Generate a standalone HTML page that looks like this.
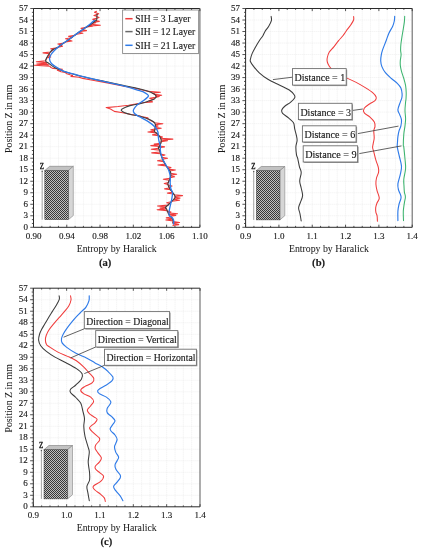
<!DOCTYPE html>
<html><head><meta charset="utf-8"><title>Entropy by Haralick</title>
<style>html,body{margin:0;padding:0;background:#fff;width:421px;height:550px;overflow:hidden}svg{display:block}</style>
</head><body>
<svg width="421" height="550" viewBox="0 0 421 550" font-family="&apos;Liberation Serif&apos;, &apos;DejaVu Serif&apos;, serif"><style>text{stroke:#1a1a1a;stroke-width:0.14px}text.al{stroke-width:0.04px}</style>
<defs><pattern id="chk" x="0" y="0" width="2" height="2" patternUnits="userSpaceOnUse"><rect width="2" height="2" fill="#383838"/><rect x="1" y="0" width="1" height="1" fill="#bfbfbf"/><rect x="0" y="1" width="1" height="1" fill="#bfbfbf"/></pattern></defs>
<rect width="421" height="550" fill="#fff"/>
<g stroke="#e4e4e4" stroke-width="0.5" stroke-dasharray="1.2 0.8"><line x1="41.82" y1="8.5" x2="41.82" y2="227.3"/><line x1="50.14" y1="8.5" x2="50.14" y2="227.3"/><line x1="58.46" y1="8.5" x2="58.46" y2="227.3"/><line x1="66.78" y1="8.5" x2="66.78" y2="227.3"/><line x1="75.1" y1="8.5" x2="75.1" y2="227.3"/><line x1="83.42" y1="8.5" x2="83.42" y2="227.3"/><line x1="91.74" y1="8.5" x2="91.74" y2="227.3"/><line x1="100.06" y1="8.5" x2="100.06" y2="227.3"/><line x1="108.38" y1="8.5" x2="108.38" y2="227.3"/><line x1="116.7" y1="8.5" x2="116.7" y2="227.3"/><line x1="125.02" y1="8.5" x2="125.02" y2="227.3"/><line x1="133.34" y1="8.5" x2="133.34" y2="227.3"/><line x1="141.66" y1="8.5" x2="141.66" y2="227.3"/><line x1="149.98" y1="8.5" x2="149.98" y2="227.3"/><line x1="158.3" y1="8.5" x2="158.3" y2="227.3"/><line x1="166.62" y1="8.5" x2="166.62" y2="227.3"/><line x1="174.94" y1="8.5" x2="174.94" y2="227.3"/><line x1="183.26" y1="8.5" x2="183.26" y2="227.3"/><line x1="191.58" y1="8.5" x2="191.58" y2="227.3"/><line x1="33.5" y1="215.78" x2="199.9" y2="215.78"/><line x1="33.5" y1="204.27" x2="199.9" y2="204.27"/><line x1="33.5" y1="192.75" x2="199.9" y2="192.75"/><line x1="33.5" y1="181.24" x2="199.9" y2="181.24"/><line x1="33.5" y1="169.72" x2="199.9" y2="169.72"/><line x1="33.5" y1="158.21" x2="199.9" y2="158.21"/><line x1="33.5" y1="146.69" x2="199.9" y2="146.69"/><line x1="33.5" y1="135.17" x2="199.9" y2="135.17"/><line x1="33.5" y1="123.66" x2="199.9" y2="123.66"/><line x1="33.5" y1="112.14" x2="199.9" y2="112.14"/><line x1="33.5" y1="100.63" x2="199.9" y2="100.63"/><line x1="33.5" y1="89.11" x2="199.9" y2="89.11"/><line x1="33.5" y1="77.59" x2="199.9" y2="77.59"/><line x1="33.5" y1="66.08" x2="199.9" y2="66.08"/><line x1="33.5" y1="54.56" x2="199.9" y2="54.56"/><line x1="33.5" y1="43.05" x2="199.9" y2="43.05"/><line x1="33.5" y1="31.53" x2="199.9" y2="31.53"/><line x1="33.5" y1="20.02" x2="199.9" y2="20.02"/></g>
<path d="M44.8 170.5 L49.7 166.3 L73.3 166.3 L68.4 170.5 Z" fill="#c2c2c2" stroke="#7a7a7a" stroke-width="0.6"/><path d="M68.4 170.5 L73.3 166.3 L73.3 215.5 L68.4 219.7 Z" fill="#d6d6d6" stroke="#858585" stroke-width="0.6"/><rect x="44.8" y="170.5" width="23.6" height="49.2" fill="url(#chk)" stroke="#444" stroke-width="0.5"/><line x1="42.2" y1="171.1" x2="42.2" y2="219.7" stroke="#909090" stroke-width="0.8"/><circle cx="42.2" cy="171.3" r="0.7" fill="#555"/><text x="0" y="0" text-anchor="middle" font-size="9" fill="#111" style="stroke:#111;stroke-width:0.3px" transform="translate(42 169.2) scale(0.78 1)">Z</text>
<path d="M96.5 11.3 L94.5 12.2 L96.54 13.1 L96.53 12.9 L98.7 13.8 L96.69 14.7 L96.67 14.5 L93.9 15.4 L96.75 16.3 L96.71 16.6 L99 17.5 L96.44 18.4 L96.44 18.4 L92.7 19.3 L95.98 20.2 L95.66 20.5 L99.3 21.4 L93.72 22.3 L94.15 21.9 L95.7 22.8 L91.7 23.7 L90.8 24.3 L100.4 25.2 L88.12 26.1 L89.45 25.2 L92.7 26.1 L86.79 27 L86.21 27.4 L81 28.3 L83.57 29.2 L82.86 29.7 L86.5 30.6 L80.29 31.5 L79 32.4 L82.8 33.3 L76.46 34.2 L74.85 35.4 L68.5 36.3 L72.42 37.2 L71.62 37.8 L65.5 38.7 L69.12 39.6 L68.4 40.1 L72 41 L65.77 41.9 L64.02 43.1 L57.8 44 L61.48 44.9 L60.92 45.3 L62.5 46.2 L58.43 47.1 L57.6 47.7 L57.19 47.9 L50.7 48.8 L53.53 49.7 L51.9 50.5 L50.72 52 L43 52.9 L49.31 53.8 L49.08 54.1 L50 55 L47.97 55.9 L47.85 56.1 L50.7 57 L46.82 57.9 L45.5 60.8 L45.5 60.8 L36.3 61.7 L46.5 62.6 L46.78 63.1 L36.8 64 L48.4 64.9 L47.9 64.4 L34.4 65.3 L49.7 66.2 L51 67.5 L53.1 68.4 L62.5 69.3 L57.3 70.2 L58 70.5 L61 71.7 L66.3 72.6 L66.04 73.5 L70 74.8 L72.49 75.5 L71 76.4 L78.89 77.3 L82.8 78.4 L94 80.5 L110 83.4 L124 86.2 L135 88.2 L147.5 91.3 L147.75 91.4 L160.4 92.3 L152.21 93.2 L154.2 94 L154.48 94.35 L161.7 95.25 L155.92 96.15 L156.2 96.5 L155.48 95.6 L159.2 96.5 L155.48 97.4 L155.56 97.3 L149.6 98.2 L153.93 99.1 L148.84 101 L152.5 101.9 L142.37 102.8 L140 103.4 L128.5 105.2 L118 106.5 L106.2 107.6 L110.5 109 L114.3 111.4 L122.8 112.8 L131.4 114.5 L140 116 L142.41 116.9 L147.9 117.8 L147.23 118.7 L148.3 119.1 L149.24 119.6 L150.5 120.5 L152.62 121.4 L153.75 122 L154.28 122.8 L162.9 123.7 L155.39 124.6 L155.34 125.1 L158 126 L155.17 126.9 L155.13 127.35 L161.25 128.25 L154.94 129.15 L154.96 129 L150.8 129.9 L154.71 130.8 L154.67 131.1 L147.9 132 L156.25 132.9 L156.7 133.25 L157.36 134 L152.5 134.9 L158.94 135.8 L160 137 L159.21 136.1 L162.5 137 L160.34 137.9 L160.45 138.2 L172.9 139.1 L161.14 140 L161.08 139.85 L167.5 140.75 L161.04 141.65 L160.81 143.2 L154.2 144.1 L160.12 145 L160.23 144.7 L150.8 145.6 L159.22 146.5 L159.54 146 L164.6 146.9 L158.37 147.8 L158.3 147.9 L158.55 148.3 L151.25 149.2 L159.62 150.1 L160.08 152 L151.7 152.9 L160.59 153.8 L160.7 154.1 L165 155 L161.37 155.9 L161.93 157.4 L167.5 158.3 L162.6 159.2 L162.86 159.9 L157.5 160.8 L163.86 161.7 L165.23 164.1 L157.9 165 L166.25 165.9 L166.64 166.6 L171 167.5 L167.96 168.4 L168.48 169.1 L175.4 170 L169.81 170.9 L170.4 171.7 L170.59 173.3 L176.7 174.2 L170.78 175.1 L170.58 175.9 L174.6 176.8 L170.15 177.7 L170 178.3 L169.96 178.4 L163.3 179.3 L169.23 180.2 L168.5 182 L168.34 182.6 L164.2 183.5 L167.94 184.4 L168.22 185.1 L172 186 L168.95 186.9 L169.4 188 L164.6 188.9 L170.58 189.8 L172.1 191.8 L172.38 192.2 L167.5 193.1 L173.62 194 L174.1 194.7 L182.5 195.6 L174.92 196.5 L174.81 197.2 L180 198.1 L174.09 199 L173.79 199.3 L179.6 200.2 L171.96 201.1 L171.25 201.8 L171.25 201.8 L166.7 202.7 L169.45 203.6 L168.3 204.75 L167.96 205.1 L157.5 206 L166.19 206.9 L165.89 207.2 L160 208.1 L166.53 209 L166.4 208.85 L157.1 209.75 L167.16 210.65 L167.31 211.1 L171 212 L168.12 212.9 L168.09 212.85 L177.5 213.75 L169.02 214.65 L168.94 214.5 L175.8 215.4 L170.34 216.3 L170.96 217 L166.25 217.9 L172.3 218.8 L172.43 219.1 L165.8 220 L173.16 220.9 L173.3 221.25 L172.9 222.5 L173.19 221.6 L179.6 222.5 L172.9 223.4 L172.9 223.7 L178.75 224.6 L172.9 225.5" fill="none" stroke="#f03c3c" stroke-width="1.1" stroke-linejoin="round" stroke-linecap="round"/>
<path d="M97.1 14 C97.07 14.48 96.98 15.92 96.9 16.9 C96.82 17.88 97 19.1 96.6 19.9 C96.2 20.7 95.6 20.85 94.5 21.7 C93.4 22.55 91.75 23.83 90 25 C88.25 26.17 86.17 27.28 84 28.7 C81.83 30.12 79.33 31.82 77 33.5 C74.67 35.18 72.33 37.13 70 38.8 C67.67 40.47 65.07 42.07 63 43.5 C60.93 44.93 59.45 46.28 57.6 47.4 C55.75 48.52 53.33 49.1 51.9 50.2 C50.47 51.3 49.87 52.73 49 54 C48.13 55.27 47.25 56.6 46.7 57.8 C46.15 59 45.32 60.25 45.7 61.2 C46.08 62.15 47.5 62.47 49 63.5 C50.5 64.53 52.37 66.15 54.7 67.4 C57.03 68.65 60.45 70.03 63 71 C65.55 71.97 67.17 72.37 70 73.2 C72.83 74.03 76 75 80 76 C84 77 89 78.1 94 79.2 C99 80.3 105 81.53 110 82.6 C115 83.67 119.83 84.74 124 85.6 C128.17 86.46 131.08 86.83 135 87.75 C138.92 88.67 144.3 90.06 147.5 91.1 C150.7 92.14 152.75 93.1 154.2 94 C155.65 94.9 156.2 95.67 156.2 96.5 C156.2 97.33 155.65 98.17 154.2 99 C152.75 99.83 149.87 100.73 147.5 101.5 C145.13 102.27 142.92 102.92 140 103.6 C137.08 104.28 132.5 104.93 130 105.6 C127.5 106.27 126.47 106.87 125 107.6 C123.53 108.33 121.23 109.13 121.2 110 C121.17 110.87 123.1 112.02 124.8 112.8 C126.5 113.58 128.87 114.13 131.4 114.7 C133.93 115.27 137.18 115.47 140 116.2 C142.82 116.93 146.01 118.13 148.3 119.1 C150.59 120.07 152.57 121.1 153.75 122 C154.93 122.9 155.19 123.38 155.4 124.5 C155.61 125.62 155.13 127.52 155 128.7 C154.87 129.88 154.32 130.84 154.6 131.6 C154.88 132.36 155.8 132.35 156.7 133.25 C157.6 134.15 159.24 135.82 160 137 C160.76 138.18 161.12 139.26 161.25 140.3 C161.38 141.34 161.01 142.42 160.8 143.25 C160.59 144.08 160.42 144.53 160 145.3 C159.58 146.08 158.37 147.12 158.3 147.9 C158.23 148.68 159.25 149.1 159.6 150 C159.95 150.9 159.85 151.63 160.4 153.3 C160.95 154.97 161.85 157.77 162.9 160 C163.95 162.23 165.45 164.75 166.7 166.7 C167.95 168.65 169.72 170.32 170.4 171.7 C171.08 173.08 170.87 173.9 170.8 175 C170.73 176.1 170.38 177.13 170 178.3 C169.62 179.47 168.85 181 168.5 182 C168.15 183 167.72 183.22 167.9 184.3 C168.08 185.38 168.9 187.25 169.6 188.5 C170.3 189.75 171.2 190.55 172.1 191.8 C173 193.05 174.58 194.88 175 196 C175.42 197.12 175.22 197.53 174.6 198.5 C173.97 199.47 172.3 200.76 171.25 201.8 C170.2 202.84 169.28 203.77 168.3 204.75 C167.33 205.73 165.67 206.96 165.4 207.7 C165.13 208.44 166.35 208.53 166.7 209.2 C167.05 209.87 167.08 210.73 167.5 211.7 C167.92 212.67 168.43 213.9 169.2 215 C169.97 216.1 171.42 217.26 172.1 218.3 C172.78 219.34 173.17 220.55 173.3 221.25 C173.43 221.95 172.97 222.29 172.9 222.5" fill="none" stroke="#404040" stroke-width="1.1" stroke-linejoin="round" stroke-linecap="round"/>
<path d="M94.5 20.2 C94.1 20.55 93.08 21.47 92.1 22.3 C91.12 23.13 90.22 23.97 88.6 25.2 C86.98 26.43 84.55 28.15 82.4 29.7 C80.25 31.25 77.77 32.98 75.7 34.5 C73.63 36.02 72.38 37.13 70 38.8 C67.62 40.47 63.78 42.75 61.4 44.5 C59.02 46.25 57.37 47.72 55.7 49.3 C54.03 50.88 52.43 52.42 51.4 54 C50.37 55.58 49.5 57.22 49.5 58.8 C49.5 60.38 50.2 62.07 51.4 63.5 C52.6 64.93 54.72 66.13 56.7 67.4 C58.68 68.67 61.08 70.13 63.3 71.1 C65.52 72.07 67.22 72.42 70 73.2 C72.78 73.98 76 74.8 80 75.8 C84 76.8 89 78.03 94 79.2 C99 80.37 104.95 81.65 110 82.8 C115.05 83.95 119.55 84.83 124.3 86.1 C129.05 87.37 135.18 89.37 138.5 90.4 C141.82 91.43 142.57 91.49 144.2 92.3 C145.83 93.11 147.75 94.42 148.3 95.25 C148.85 96.08 148.33 96.39 147.5 97.3 C146.67 98.21 144.83 99.58 143.3 100.7 C141.77 101.82 139.68 102.9 138.3 104 C136.92 105.1 135.83 106.22 135 107.3 C134.17 108.38 133.38 109.47 133.3 110.5 C133.22 111.53 133.72 112.58 134.5 113.5 C135.28 114.42 137.08 115.42 138 116 C138.92 116.58 138.28 116.07 140 117 C141.72 117.93 145.8 119.93 148.3 121.6 C150.8 123.27 153.4 125.27 155 127 C156.6 128.73 157.35 130.33 157.9 132 C158.45 133.67 158.08 135.33 158.3 137 C158.52 138.67 158.82 140.42 159.2 142 C159.58 143.58 160.42 145.17 160.6 146.5 C160.78 147.83 160.12 148.3 160.3 150 C160.48 151.7 160.92 154.48 161.7 156.7 C162.48 158.92 163.9 161.22 165 163.3 C166.1 165.38 167.47 167.25 168.3 169.2 C169.13 171.15 169.67 173.2 170 175 C170.33 176.8 170.27 178.67 170.3 180 C170.33 181.33 170.12 181.58 170.2 183 C170.28 184.42 170.42 186.88 170.8 188.5 C171.18 190.12 172.35 190.9 172.5 192.7 C172.65 194.5 172.05 197.22 171.7 199.3 C171.35 201.38 170.82 203.25 170.4 205.2 C169.98 207.15 169.4 209.28 169.2 211 C169 212.72 168.65 214.33 169.2 215.5 C169.75 216.67 171.74 217.12 172.5 218 C173.26 218.88 173.58 219.8 173.75 220.8 C173.92 221.8 173.54 223.47 173.5 224" fill="none" stroke="#2f7be8" stroke-width="1.3" stroke-linejoin="round" stroke-linecap="round"/>
<rect x="122.6" y="10" width="76" height="43.5" fill="#fff" stroke="#8a8a8a" stroke-width="0.9"/><line x1="125.3" y1="18.7" x2="132.6" y2="18.7" stroke="#f03c3c" stroke-width="1.5"/><text x="135.2" y="22" font-size="9.6" fill="#1a1a1a">SIH = 3 Layer</text><line x1="125.3" y1="31.6" x2="132.6" y2="31.6" stroke="#6a6a6a" stroke-width="1.5"/><text x="135.2" y="34.9" font-size="9.6" fill="#1a1a1a">SIH = 12 Layer</text><line x1="125.3" y1="45.3" x2="132.6" y2="45.3" stroke="#2f7be8" stroke-width="1.5"/><text x="135.2" y="48.6" font-size="9.6" fill="#1a1a1a">SIH = 21 Layer</text>
<path d="M33.5 8.5 L33.5 227.3 L199.9 227.3" fill="none" stroke="#2a2a2a" stroke-width="1"/><line x1="33.5" y1="8.5" x2="199.9" y2="8.5" stroke="#2a2a2a" stroke-width="1"/><line x1="199.9" y1="8.5" x2="199.9" y2="227.3" stroke="#6a6a6a" stroke-width="1.1"/><g stroke="#2a2a2a" stroke-width="0.8"><line x1="33.5" y1="227.3" x2="33.5" y2="224.7"/><line x1="33.5" y1="8.5" x2="33.5" y2="11.1"/><line x1="41.82" y1="227.3" x2="41.82" y2="225.9"/><line x1="41.82" y1="8.5" x2="41.82" y2="9.9"/><line x1="50.14" y1="227.3" x2="50.14" y2="225.9"/><line x1="50.14" y1="8.5" x2="50.14" y2="9.9"/><line x1="58.46" y1="227.3" x2="58.46" y2="225.9"/><line x1="58.46" y1="8.5" x2="58.46" y2="9.9"/><line x1="66.78" y1="227.3" x2="66.78" y2="224.7"/><line x1="66.78" y1="8.5" x2="66.78" y2="11.1"/><line x1="75.1" y1="227.3" x2="75.1" y2="225.9"/><line x1="75.1" y1="8.5" x2="75.1" y2="9.9"/><line x1="83.42" y1="227.3" x2="83.42" y2="225.9"/><line x1="83.42" y1="8.5" x2="83.42" y2="9.9"/><line x1="91.74" y1="227.3" x2="91.74" y2="225.9"/><line x1="91.74" y1="8.5" x2="91.74" y2="9.9"/><line x1="100.06" y1="227.3" x2="100.06" y2="224.7"/><line x1="100.06" y1="8.5" x2="100.06" y2="11.1"/><line x1="108.38" y1="227.3" x2="108.38" y2="225.9"/><line x1="108.38" y1="8.5" x2="108.38" y2="9.9"/><line x1="116.7" y1="227.3" x2="116.7" y2="225.9"/><line x1="116.7" y1="8.5" x2="116.7" y2="9.9"/><line x1="125.02" y1="227.3" x2="125.02" y2="225.9"/><line x1="125.02" y1="8.5" x2="125.02" y2="9.9"/><line x1="133.34" y1="227.3" x2="133.34" y2="224.7"/><line x1="133.34" y1="8.5" x2="133.34" y2="11.1"/><line x1="141.66" y1="227.3" x2="141.66" y2="225.9"/><line x1="141.66" y1="8.5" x2="141.66" y2="9.9"/><line x1="149.98" y1="227.3" x2="149.98" y2="225.9"/><line x1="149.98" y1="8.5" x2="149.98" y2="9.9"/><line x1="158.3" y1="227.3" x2="158.3" y2="225.9"/><line x1="158.3" y1="8.5" x2="158.3" y2="9.9"/><line x1="166.62" y1="227.3" x2="166.62" y2="224.7"/><line x1="166.62" y1="8.5" x2="166.62" y2="11.1"/><line x1="174.94" y1="227.3" x2="174.94" y2="225.9"/><line x1="174.94" y1="8.5" x2="174.94" y2="9.9"/><line x1="183.26" y1="227.3" x2="183.26" y2="225.9"/><line x1="183.26" y1="8.5" x2="183.26" y2="9.9"/><line x1="191.58" y1="227.3" x2="191.58" y2="225.9"/><line x1="191.58" y1="8.5" x2="191.58" y2="9.9"/><line x1="199.9" y1="227.3" x2="199.9" y2="224.7"/><line x1="199.9" y1="8.5" x2="199.9" y2="11.1"/><line x1="30.3" y1="227.3" x2="33.5" y2="227.3"/><line x1="31.9" y1="223.46" x2="33.5" y2="223.46"/><line x1="31.9" y1="219.62" x2="33.5" y2="219.62"/><line x1="30.3" y1="215.78" x2="33.5" y2="215.78"/><line x1="31.9" y1="211.95" x2="33.5" y2="211.95"/><line x1="31.9" y1="208.11" x2="33.5" y2="208.11"/><line x1="30.3" y1="204.27" x2="33.5" y2="204.27"/><line x1="31.9" y1="200.43" x2="33.5" y2="200.43"/><line x1="31.9" y1="196.59" x2="33.5" y2="196.59"/><line x1="30.3" y1="192.75" x2="33.5" y2="192.75"/><line x1="31.9" y1="188.91" x2="33.5" y2="188.91"/><line x1="31.9" y1="185.08" x2="33.5" y2="185.08"/><line x1="30.3" y1="181.24" x2="33.5" y2="181.24"/><line x1="31.9" y1="177.4" x2="33.5" y2="177.4"/><line x1="31.9" y1="173.56" x2="33.5" y2="173.56"/><line x1="30.3" y1="169.72" x2="33.5" y2="169.72"/><line x1="31.9" y1="165.88" x2="33.5" y2="165.88"/><line x1="31.9" y1="162.04" x2="33.5" y2="162.04"/><line x1="30.3" y1="158.21" x2="33.5" y2="158.21"/><line x1="31.9" y1="154.37" x2="33.5" y2="154.37"/><line x1="31.9" y1="150.53" x2="33.5" y2="150.53"/><line x1="30.3" y1="146.69" x2="33.5" y2="146.69"/><line x1="31.9" y1="142.85" x2="33.5" y2="142.85"/><line x1="31.9" y1="139.01" x2="33.5" y2="139.01"/><line x1="30.3" y1="135.17" x2="33.5" y2="135.17"/><line x1="31.9" y1="131.34" x2="33.5" y2="131.34"/><line x1="31.9" y1="127.5" x2="33.5" y2="127.5"/><line x1="30.3" y1="123.66" x2="33.5" y2="123.66"/><line x1="31.9" y1="119.82" x2="33.5" y2="119.82"/><line x1="31.9" y1="115.98" x2="33.5" y2="115.98"/><line x1="30.3" y1="112.14" x2="33.5" y2="112.14"/><line x1="31.9" y1="108.3" x2="33.5" y2="108.3"/><line x1="31.9" y1="104.46" x2="33.5" y2="104.46"/><line x1="30.3" y1="100.63" x2="33.5" y2="100.63"/><line x1="31.9" y1="96.79" x2="33.5" y2="96.79"/><line x1="31.9" y1="92.95" x2="33.5" y2="92.95"/><line x1="30.3" y1="89.11" x2="33.5" y2="89.11"/><line x1="31.9" y1="85.27" x2="33.5" y2="85.27"/><line x1="31.9" y1="81.43" x2="33.5" y2="81.43"/><line x1="30.3" y1="77.59" x2="33.5" y2="77.59"/><line x1="31.9" y1="73.76" x2="33.5" y2="73.76"/><line x1="31.9" y1="69.92" x2="33.5" y2="69.92"/><line x1="30.3" y1="66.08" x2="33.5" y2="66.08"/><line x1="31.9" y1="62.24" x2="33.5" y2="62.24"/><line x1="31.9" y1="58.4" x2="33.5" y2="58.4"/><line x1="30.3" y1="54.56" x2="33.5" y2="54.56"/><line x1="31.9" y1="50.72" x2="33.5" y2="50.72"/><line x1="31.9" y1="46.89" x2="33.5" y2="46.89"/><line x1="30.3" y1="43.05" x2="33.5" y2="43.05"/><line x1="31.9" y1="39.21" x2="33.5" y2="39.21"/><line x1="31.9" y1="35.37" x2="33.5" y2="35.37"/><line x1="30.3" y1="31.53" x2="33.5" y2="31.53"/><line x1="31.9" y1="27.69" x2="33.5" y2="27.69"/><line x1="31.9" y1="23.85" x2="33.5" y2="23.85"/><line x1="30.3" y1="20.02" x2="33.5" y2="20.02"/><line x1="31.9" y1="16.18" x2="33.5" y2="16.18"/><line x1="31.9" y1="12.34" x2="33.5" y2="12.34"/><line x1="30.3" y1="8.5" x2="33.5" y2="8.5"/></g><g font-size="9" fill="#1a1a1a"><text x="33.5" y="238.7" text-anchor="middle">0.90</text><text x="66.78" y="238.7" text-anchor="middle">0.94</text><text x="100.06" y="238.7" text-anchor="middle">0.98</text><text x="133.34" y="238.7" text-anchor="middle">1.02</text><text x="166.62" y="238.7" text-anchor="middle">1.06</text><text x="199.9" y="238.7" text-anchor="middle">1.10</text><text x="27.9" y="229.9" text-anchor="end">0</text><text x="27.9" y="218.38" text-anchor="end">3</text><text x="27.9" y="206.87" text-anchor="end">6</text><text x="27.9" y="195.35" text-anchor="end">9</text><text x="27.9" y="183.84" text-anchor="end">12</text><text x="27.9" y="172.32" text-anchor="end">15</text><text x="27.9" y="160.81" text-anchor="end">18</text><text x="27.9" y="149.29" text-anchor="end">21</text><text x="27.9" y="137.77" text-anchor="end">24</text><text x="27.9" y="126.26" text-anchor="end">27</text><text x="27.9" y="114.74" text-anchor="end">30</text><text x="27.9" y="103.23" text-anchor="end">33</text><text x="27.9" y="91.71" text-anchor="end">36</text><text x="27.9" y="80.19" text-anchor="end">39</text><text x="27.9" y="68.68" text-anchor="end">42</text><text x="27.9" y="57.16" text-anchor="end">45</text><text x="27.9" y="45.65" text-anchor="end">48</text><text x="27.9" y="34.13" text-anchor="end">51</text><text x="27.9" y="22.62" text-anchor="end">54</text><text x="27.9" y="11.1" text-anchor="end">57</text></g><text x="116.7" y="251.6" class="al" text-anchor="middle" font-size="9.5" fill="#1a1a1a" textLength="80" lengthAdjust="spacingAndGlyphs">Entropy by Haralick</text><text transform="translate(12.4 118.8) rotate(-90)" class="al" text-anchor="middle" font-size="9.5" fill="#1a1a1a" textLength="68.3" lengthAdjust="spacingAndGlyphs">Position Z in mm</text><text x="105.1" y="265.6" text-anchor="middle" font-size="10.6" font-weight="bold" fill="#1a1a1a">(a)</text>
<g stroke="#e4e4e4" stroke-width="0.5" stroke-dasharray="1.2 0.8"><line x1="253.93" y1="8.5" x2="253.93" y2="227.3"/><line x1="262.26" y1="8.5" x2="262.26" y2="227.3"/><line x1="270.59" y1="8.5" x2="270.59" y2="227.3"/><line x1="278.92" y1="8.5" x2="278.92" y2="227.3"/><line x1="287.25" y1="8.5" x2="287.25" y2="227.3"/><line x1="295.58" y1="8.5" x2="295.58" y2="227.3"/><line x1="303.91" y1="8.5" x2="303.91" y2="227.3"/><line x1="312.24" y1="8.5" x2="312.24" y2="227.3"/><line x1="320.57" y1="8.5" x2="320.57" y2="227.3"/><line x1="328.9" y1="8.5" x2="328.9" y2="227.3"/><line x1="337.23" y1="8.5" x2="337.23" y2="227.3"/><line x1="345.56" y1="8.5" x2="345.56" y2="227.3"/><line x1="353.89" y1="8.5" x2="353.89" y2="227.3"/><line x1="362.22" y1="8.5" x2="362.22" y2="227.3"/><line x1="370.55" y1="8.5" x2="370.55" y2="227.3"/><line x1="378.88" y1="8.5" x2="378.88" y2="227.3"/><line x1="387.21" y1="8.5" x2="387.21" y2="227.3"/><line x1="395.54" y1="8.5" x2="395.54" y2="227.3"/><line x1="403.87" y1="8.5" x2="403.87" y2="227.3"/><line x1="245.6" y1="215.78" x2="412.2" y2="215.78"/><line x1="245.6" y1="204.27" x2="412.2" y2="204.27"/><line x1="245.6" y1="192.75" x2="412.2" y2="192.75"/><line x1="245.6" y1="181.24" x2="412.2" y2="181.24"/><line x1="245.6" y1="169.72" x2="412.2" y2="169.72"/><line x1="245.6" y1="158.21" x2="412.2" y2="158.21"/><line x1="245.6" y1="146.69" x2="412.2" y2="146.69"/><line x1="245.6" y1="135.17" x2="412.2" y2="135.17"/><line x1="245.6" y1="123.66" x2="412.2" y2="123.66"/><line x1="245.6" y1="112.14" x2="412.2" y2="112.14"/><line x1="245.6" y1="100.63" x2="412.2" y2="100.63"/><line x1="245.6" y1="89.11" x2="412.2" y2="89.11"/><line x1="245.6" y1="77.59" x2="412.2" y2="77.59"/><line x1="245.6" y1="66.08" x2="412.2" y2="66.08"/><line x1="245.6" y1="54.56" x2="412.2" y2="54.56"/><line x1="245.6" y1="43.05" x2="412.2" y2="43.05"/><line x1="245.6" y1="31.53" x2="412.2" y2="31.53"/><line x1="245.6" y1="20.02" x2="412.2" y2="20.02"/></g>
<path d="M256.3 170.7 L261.2 166.5 L284.8 166.5 L279.9 170.7 Z" fill="#c2c2c2" stroke="#7a7a7a" stroke-width="0.6"/><path d="M279.9 170.7 L284.8 166.5 L284.8 215.7 L279.9 219.9 Z" fill="#d6d6d6" stroke="#858585" stroke-width="0.6"/><rect x="256.3" y="170.7" width="23.6" height="49.2" fill="url(#chk)" stroke="#444" stroke-width="0.5"/><line x1="253.7" y1="171.3" x2="253.7" y2="219.9" stroke="#909090" stroke-width="0.8"/><circle cx="253.7" cy="171.5" r="0.7" fill="#555"/><text x="0" y="0" text-anchor="middle" font-size="9" fill="#111" style="stroke:#111;stroke-width:0.3px" transform="translate(253.5 169.4) scale(0.78 1)">Z</text>
<path d="M271.1 16.4 C271.15 17.12 271.82 19.03 271.4 20.7 C270.98 22.37 269.67 24.62 268.6 26.4 C267.53 28.18 265.95 29.85 265 31.4 C264.05 32.95 263.85 34.15 262.9 35.7 C261.95 37.25 260.62 38.67 259.3 40.7 C257.98 42.73 256.2 45.75 255 47.9 C253.8 50.05 252.83 51.83 252.1 53.6 C251.37 55.37 250.88 57.18 250.6 58.5 C250.32 59.82 249.9 60.18 250.4 61.5 C250.9 62.82 252.12 64.52 253.6 66.4 C255.08 68.28 256.92 70.65 259.3 72.8 C261.68 74.95 264.57 77.27 267.9 79.3 C271.23 81.33 275.73 83.22 279.3 85 C282.87 86.78 286.8 88.33 289.3 90 C291.8 91.67 293.42 93.67 294.3 95 C295.18 96.33 295.2 96.82 294.6 98 C294 99.18 292.38 100.68 290.7 102.1 C289.02 103.52 285.98 105.18 284.5 106.5 C283.02 107.82 282.12 108.87 281.8 110 C281.48 111.13 281.43 111.95 282.6 113.3 C283.77 114.65 286.98 116.52 288.8 118.1 C290.62 119.68 292.52 121.02 293.5 122.8 C294.48 124.58 294.2 126.62 294.7 128.8 C295.2 130.98 296.1 133.93 296.5 135.9 C296.9 137.87 297.2 138.82 297.1 140.6 C297 142.38 296 144.22 295.9 146.6 C295.8 148.98 296.2 152.95 296.5 154.9 C296.8 156.85 297.22 156.35 297.7 158.3 C298.18 160.25 298.82 164.22 299.4 166.6 C299.98 168.98 301.15 170.22 301.2 172.6 C301.25 174.98 299.7 178.33 299.7 180.9 C299.7 183.47 300.72 185.57 301.2 188 C301.68 190.43 302.7 193.18 302.6 195.5 C302.5 197.82 301.27 199.85 300.6 201.9 C299.93 203.95 298.7 205.82 298.6 207.8 C298.5 209.78 299.57 211.62 300 213.8 C300.43 215.98 301 219.72 301.2 220.9" fill="none" stroke="#3c3c3c" stroke-width="1.05" stroke-linejoin="round" stroke-linecap="round"/>
<path d="M353.6 16.4 C353.6 17 354.08 18.57 353.6 20 C353.12 21.43 351.9 23.22 350.7 25 C349.5 26.78 347.7 28.92 346.4 30.7 C345.1 32.48 344.2 34.03 342.9 35.7 C341.6 37.37 340.15 38.8 338.6 40.7 C337.05 42.6 335.15 45.2 333.6 47.1 C332.05 49 330.37 50.28 329.3 52.1 C328.23 53.92 327.53 56.35 327.2 58 C326.87 59.65 326.95 60.63 327.3 62 C327.65 63.37 328.35 64.78 329.3 66.2 C330.25 67.62 331.55 69.12 333 70.5 C334.45 71.88 335.77 73.27 338 74.5 C340.23 75.73 343.45 76.63 346.4 77.9 C349.35 79.17 352.48 80.43 355.7 82.1 C358.92 83.77 362.83 86.1 365.7 87.9 C368.57 89.7 371.15 91.37 372.9 92.9 C374.65 94.43 375.85 95.8 376.2 97.1 C376.55 98.4 376.12 99.55 375 100.7 C373.88 101.85 371.3 102.73 369.5 104 C367.7 105.27 365.07 106.82 364.2 108.3 C363.33 109.78 363.33 111.43 364.3 112.9 C365.27 114.37 368.33 115.57 370 117.1 C371.67 118.63 373.47 120.55 374.3 122.1 C375.13 123.65 375.08 124.97 375 126.4 C374.92 127.83 373.93 128.78 373.8 130.7 C373.67 132.62 374.3 135.75 374.2 137.9 C374.1 140.05 373.47 142 373.2 143.6 C372.93 145.2 372.5 146.12 372.6 147.5 C372.7 148.88 373.25 149.78 373.8 151.9 C374.35 154.02 375.15 157.63 375.9 160.2 C376.65 162.77 377.85 165.32 378.3 167.3 C378.75 169.28 378.9 170.32 378.6 172.1 C378.3 173.88 376.95 176.03 376.5 178 C376.05 179.97 375.8 181.75 375.9 183.9 C376 186.05 376.53 188.53 377.1 190.9 C377.67 193.27 379.3 196.12 379.3 198.1 C379.3 200.08 377.7 201.22 377.1 202.8 C376.5 204.38 375.9 206.02 375.7 207.6 C375.5 209.18 375.67 210.92 375.9 212.3 C376.13 213.68 376.85 214.42 377.1 215.9 C377.35 217.38 377.35 220.32 377.4 221.2" fill="none" stroke="#f03c3c" stroke-width="1.05" stroke-linejoin="round" stroke-linecap="round"/>
<path d="M394.7 16.3 C394.63 17.08 394.65 19.32 394.3 21 C393.95 22.68 393.48 24.42 392.6 26.4 C391.72 28.38 390 30.73 389 32.9 C388 35.07 387.38 37.32 386.6 39.4 C385.82 41.48 384.98 43.62 384.3 45.4 C383.62 47.18 383 48.53 382.5 50.1 C382 51.67 381.6 53.03 381.3 54.8 C381 56.57 380.6 58.73 380.7 60.7 C380.8 62.67 381.12 64.62 381.9 66.6 C382.68 68.58 383.82 70.62 385.4 72.6 C386.98 74.58 389.42 76.72 391.4 78.5 C393.38 80.28 395.72 81.72 397.3 83.3 C398.88 84.88 400.1 86.23 400.9 88 C401.7 89.77 401.95 92.23 402.1 93.9 C402.25 95.57 402.1 96.63 401.8 98 C401.5 99.37 400.95 100.13 400.3 102.1 C399.65 104.07 398 107.72 397.9 109.8 C397.8 111.88 399.1 112.92 399.7 114.6 C400.3 116.28 401.3 118.02 401.5 119.9 C401.7 121.78 401.3 124.12 400.9 125.9 C400.5 127.68 399.6 128.82 399.1 130.6 C398.6 132.38 398.17 134.7 397.9 136.6 C397.63 138.5 397.6 140.25 397.5 142 C397.4 143.75 397.03 144.87 397.3 147.1 C397.57 149.33 398.4 152.23 399.1 155.4 C399.8 158.57 401.3 162.93 401.5 166.1 C401.7 169.27 400.9 171.43 400.3 174.4 C399.7 177.37 398.2 181.32 397.9 183.9 C397.6 186.48 397.97 187.73 398.5 189.9 C399.03 192.07 401 194.55 401.1 196.9 C401.2 199.25 399.63 201.63 399.1 204 C398.57 206.37 398.1 208.33 397.9 211.1 C397.7 213.87 397.9 219.02 397.9 220.6" fill="none" stroke="#2f7be8" stroke-width="1.15" stroke-linejoin="round" stroke-linecap="round"/>
<path d="M404.7 16.3 C404.65 17.18 404.63 19.52 404.4 21.6 C404.17 23.68 403.68 26.42 403.3 28.8 C402.92 31.18 402.5 33.33 402.1 35.9 C401.7 38.47 401.15 41.83 400.9 44.2 C400.65 46.57 400.57 48.33 400.6 50.1 C400.63 51.87 401.15 53.03 401.1 54.8 C401.05 56.57 400.43 58.93 400.3 60.7 C400.17 62.47 400.1 63.62 400.3 65.4 C400.5 67.18 400.92 69.22 401.5 71.4 C402.08 73.58 403.12 76.13 403.8 78.5 C404.48 80.87 405.2 83.22 405.6 85.6 C406 87.98 406.13 90.57 406.2 92.8 C406.27 95.03 406.1 97.45 406 99 C405.9 100.55 405.77 100.2 405.6 102.1 C405.43 104 405 107.62 405 110.4 C405 113.18 405.6 116.22 405.6 118.8 C405.6 121.38 405.3 123.33 405 125.9 C404.7 128.47 404.08 131.03 403.8 134.2 C403.52 137.37 403.3 142.75 403.3 144.9 C403.3 147.05 403.52 144.75 403.8 147.1 C404.08 149.45 404.7 155.43 405 159 C405.3 162.57 405.8 165.13 405.6 168.5 C405.4 171.87 404.07 176.28 403.8 179.2 C403.53 182.12 403.9 183.85 404 186 C404.1 188.15 404.17 190.28 404.4 192.1 C404.63 193.92 405.4 195.12 405.4 196.9 C405.4 198.68 404.75 200.43 404.4 202.8 C404.05 205.17 403.45 208.13 403.3 211.1 C403.15 214.07 403.47 219.02 403.5 220.6" fill="none" stroke="#3cb46e" stroke-width="1.05" stroke-linejoin="round" stroke-linecap="round"/>
<line x1="292.5" y1="77.2" x2="272.9" y2="79.6" stroke="#3a3a3a" stroke-width="0.8"/>
<line x1="352" y1="110.5" x2="362.8" y2="109" stroke="#3a3a3a" stroke-width="0.8"/>
<line x1="357.9" y1="133.6" x2="398.5" y2="126.1" stroke="#3a3a3a" stroke-width="0.8"/>
<line x1="359.3" y1="153.6" x2="401.5" y2="145.9" stroke="#3a3a3a" stroke-width="0.8"/>
<rect x="293.5" y="69.6" width="53.7" height="16.5" fill="#9a9a9a"/><rect x="292.5" y="68.6" width="53.7" height="16.5" fill="#fff" stroke="#6e6e6e" stroke-width="0.9"/><text x="294.5" y="81" font-size="9.6" fill="#1a1a1a" textLength="50.8" lengthAdjust="spacingAndGlyphs">Distance = 1</text>
<rect x="299.4" y="104.3" width="53.6" height="16.3" fill="#9a9a9a"/><rect x="298.4" y="103.3" width="53.6" height="16.3" fill="#fff" stroke="#6e6e6e" stroke-width="0.9"/><text x="300.4" y="115.5" font-size="9.6" fill="#1a1a1a" textLength="50.7" lengthAdjust="spacingAndGlyphs">Distance = 3</text>
<rect x="303.4" y="126.8" width="53.7" height="16.2" fill="#9a9a9a"/><rect x="302.4" y="125.8" width="53.7" height="16.2" fill="#fff" stroke="#6e6e6e" stroke-width="0.9"/><text x="304.4" y="137.9" font-size="9.6" fill="#1a1a1a" textLength="50.8" lengthAdjust="spacingAndGlyphs">Distance = 6</text>
<rect x="304.2" y="146.8" width="54.4" height="16.2" fill="#9a9a9a"/><rect x="303.2" y="145.8" width="54.4" height="16.2" fill="#fff" stroke="#6e6e6e" stroke-width="0.9"/><text x="305.2" y="157.9" font-size="9.6" fill="#1a1a1a" textLength="51.5" lengthAdjust="spacingAndGlyphs">Distance = 9</text>
<path d="M245.6 8.5 L245.6 227.3 L412.2 227.3" fill="none" stroke="#2a2a2a" stroke-width="1"/><line x1="245.6" y1="8.5" x2="412.2" y2="8.5" stroke="#2a2a2a" stroke-width="1"/><line x1="412.2" y1="8.5" x2="412.2" y2="227.3" stroke="#6a6a6a" stroke-width="1.1"/><g stroke="#2a2a2a" stroke-width="0.8"><line x1="245.6" y1="227.3" x2="245.6" y2="224.7"/><line x1="245.6" y1="8.5" x2="245.6" y2="11.1"/><line x1="253.93" y1="227.3" x2="253.93" y2="225.9"/><line x1="253.93" y1="8.5" x2="253.93" y2="9.9"/><line x1="262.26" y1="227.3" x2="262.26" y2="225.9"/><line x1="262.26" y1="8.5" x2="262.26" y2="9.9"/><line x1="270.59" y1="227.3" x2="270.59" y2="225.9"/><line x1="270.59" y1="8.5" x2="270.59" y2="9.9"/><line x1="278.92" y1="227.3" x2="278.92" y2="224.7"/><line x1="278.92" y1="8.5" x2="278.92" y2="11.1"/><line x1="287.25" y1="227.3" x2="287.25" y2="225.9"/><line x1="287.25" y1="8.5" x2="287.25" y2="9.9"/><line x1="295.58" y1="227.3" x2="295.58" y2="225.9"/><line x1="295.58" y1="8.5" x2="295.58" y2="9.9"/><line x1="303.91" y1="227.3" x2="303.91" y2="225.9"/><line x1="303.91" y1="8.5" x2="303.91" y2="9.9"/><line x1="312.24" y1="227.3" x2="312.24" y2="224.7"/><line x1="312.24" y1="8.5" x2="312.24" y2="11.1"/><line x1="320.57" y1="227.3" x2="320.57" y2="225.9"/><line x1="320.57" y1="8.5" x2="320.57" y2="9.9"/><line x1="328.9" y1="227.3" x2="328.9" y2="225.9"/><line x1="328.9" y1="8.5" x2="328.9" y2="9.9"/><line x1="337.23" y1="227.3" x2="337.23" y2="225.9"/><line x1="337.23" y1="8.5" x2="337.23" y2="9.9"/><line x1="345.56" y1="227.3" x2="345.56" y2="224.7"/><line x1="345.56" y1="8.5" x2="345.56" y2="11.1"/><line x1="353.89" y1="227.3" x2="353.89" y2="225.9"/><line x1="353.89" y1="8.5" x2="353.89" y2="9.9"/><line x1="362.22" y1="227.3" x2="362.22" y2="225.9"/><line x1="362.22" y1="8.5" x2="362.22" y2="9.9"/><line x1="370.55" y1="227.3" x2="370.55" y2="225.9"/><line x1="370.55" y1="8.5" x2="370.55" y2="9.9"/><line x1="378.88" y1="227.3" x2="378.88" y2="224.7"/><line x1="378.88" y1="8.5" x2="378.88" y2="11.1"/><line x1="387.21" y1="227.3" x2="387.21" y2="225.9"/><line x1="387.21" y1="8.5" x2="387.21" y2="9.9"/><line x1="395.54" y1="227.3" x2="395.54" y2="225.9"/><line x1="395.54" y1="8.5" x2="395.54" y2="9.9"/><line x1="403.87" y1="227.3" x2="403.87" y2="225.9"/><line x1="403.87" y1="8.5" x2="403.87" y2="9.9"/><line x1="412.2" y1="227.3" x2="412.2" y2="224.7"/><line x1="412.2" y1="8.5" x2="412.2" y2="11.1"/><line x1="242.4" y1="227.3" x2="245.6" y2="227.3"/><line x1="244" y1="223.46" x2="245.6" y2="223.46"/><line x1="244" y1="219.62" x2="245.6" y2="219.62"/><line x1="242.4" y1="215.78" x2="245.6" y2="215.78"/><line x1="244" y1="211.95" x2="245.6" y2="211.95"/><line x1="244" y1="208.11" x2="245.6" y2="208.11"/><line x1="242.4" y1="204.27" x2="245.6" y2="204.27"/><line x1="244" y1="200.43" x2="245.6" y2="200.43"/><line x1="244" y1="196.59" x2="245.6" y2="196.59"/><line x1="242.4" y1="192.75" x2="245.6" y2="192.75"/><line x1="244" y1="188.91" x2="245.6" y2="188.91"/><line x1="244" y1="185.08" x2="245.6" y2="185.08"/><line x1="242.4" y1="181.24" x2="245.6" y2="181.24"/><line x1="244" y1="177.4" x2="245.6" y2="177.4"/><line x1="244" y1="173.56" x2="245.6" y2="173.56"/><line x1="242.4" y1="169.72" x2="245.6" y2="169.72"/><line x1="244" y1="165.88" x2="245.6" y2="165.88"/><line x1="244" y1="162.04" x2="245.6" y2="162.04"/><line x1="242.4" y1="158.21" x2="245.6" y2="158.21"/><line x1="244" y1="154.37" x2="245.6" y2="154.37"/><line x1="244" y1="150.53" x2="245.6" y2="150.53"/><line x1="242.4" y1="146.69" x2="245.6" y2="146.69"/><line x1="244" y1="142.85" x2="245.6" y2="142.85"/><line x1="244" y1="139.01" x2="245.6" y2="139.01"/><line x1="242.4" y1="135.17" x2="245.6" y2="135.17"/><line x1="244" y1="131.34" x2="245.6" y2="131.34"/><line x1="244" y1="127.5" x2="245.6" y2="127.5"/><line x1="242.4" y1="123.66" x2="245.6" y2="123.66"/><line x1="244" y1="119.82" x2="245.6" y2="119.82"/><line x1="244" y1="115.98" x2="245.6" y2="115.98"/><line x1="242.4" y1="112.14" x2="245.6" y2="112.14"/><line x1="244" y1="108.3" x2="245.6" y2="108.3"/><line x1="244" y1="104.46" x2="245.6" y2="104.46"/><line x1="242.4" y1="100.63" x2="245.6" y2="100.63"/><line x1="244" y1="96.79" x2="245.6" y2="96.79"/><line x1="244" y1="92.95" x2="245.6" y2="92.95"/><line x1="242.4" y1="89.11" x2="245.6" y2="89.11"/><line x1="244" y1="85.27" x2="245.6" y2="85.27"/><line x1="244" y1="81.43" x2="245.6" y2="81.43"/><line x1="242.4" y1="77.59" x2="245.6" y2="77.59"/><line x1="244" y1="73.76" x2="245.6" y2="73.76"/><line x1="244" y1="69.92" x2="245.6" y2="69.92"/><line x1="242.4" y1="66.08" x2="245.6" y2="66.08"/><line x1="244" y1="62.24" x2="245.6" y2="62.24"/><line x1="244" y1="58.4" x2="245.6" y2="58.4"/><line x1="242.4" y1="54.56" x2="245.6" y2="54.56"/><line x1="244" y1="50.72" x2="245.6" y2="50.72"/><line x1="244" y1="46.89" x2="245.6" y2="46.89"/><line x1="242.4" y1="43.05" x2="245.6" y2="43.05"/><line x1="244" y1="39.21" x2="245.6" y2="39.21"/><line x1="244" y1="35.37" x2="245.6" y2="35.37"/><line x1="242.4" y1="31.53" x2="245.6" y2="31.53"/><line x1="244" y1="27.69" x2="245.6" y2="27.69"/><line x1="244" y1="23.85" x2="245.6" y2="23.85"/><line x1="242.4" y1="20.02" x2="245.6" y2="20.02"/><line x1="244" y1="16.18" x2="245.6" y2="16.18"/><line x1="244" y1="12.34" x2="245.6" y2="12.34"/><line x1="242.4" y1="8.5" x2="245.6" y2="8.5"/></g><g font-size="9" fill="#1a1a1a"><text x="245.6" y="238.7" text-anchor="middle">0.9</text><text x="278.92" y="238.7" text-anchor="middle">1.0</text><text x="312.24" y="238.7" text-anchor="middle">1.1</text><text x="345.56" y="238.7" text-anchor="middle">1.2</text><text x="378.88" y="238.7" text-anchor="middle">1.3</text><text x="412.2" y="238.7" text-anchor="middle">1.4</text><text x="240" y="229.9" text-anchor="end">0</text><text x="240" y="218.38" text-anchor="end">3</text><text x="240" y="206.87" text-anchor="end">6</text><text x="240" y="195.35" text-anchor="end">9</text><text x="240" y="183.84" text-anchor="end">12</text><text x="240" y="172.32" text-anchor="end">15</text><text x="240" y="160.81" text-anchor="end">18</text><text x="240" y="149.29" text-anchor="end">21</text><text x="240" y="137.77" text-anchor="end">24</text><text x="240" y="126.26" text-anchor="end">27</text><text x="240" y="114.74" text-anchor="end">30</text><text x="240" y="103.23" text-anchor="end">33</text><text x="240" y="91.71" text-anchor="end">36</text><text x="240" y="80.19" text-anchor="end">39</text><text x="240" y="68.68" text-anchor="end">42</text><text x="240" y="57.16" text-anchor="end">45</text><text x="240" y="45.65" text-anchor="end">48</text><text x="240" y="34.13" text-anchor="end">51</text><text x="240" y="22.62" text-anchor="end">54</text><text x="240" y="11.1" text-anchor="end">57</text></g><text x="328.9" y="251.6" class="al" text-anchor="middle" font-size="9.5" fill="#1a1a1a" textLength="80" lengthAdjust="spacingAndGlyphs">Entropy by Haralick</text><text transform="translate(224.7 118.8) rotate(-90)" class="al" text-anchor="middle" font-size="9.5" fill="#1a1a1a" textLength="68.3" lengthAdjust="spacingAndGlyphs">Position Z in mm</text><text x="318.6" y="265.6" text-anchor="middle" font-size="10.6" font-weight="bold" fill="#1a1a1a">(b)</text>
<g stroke="#e4e4e4" stroke-width="0.5" stroke-dasharray="1.2 0.8"><line x1="41.63" y1="288.2" x2="41.63" y2="506.8"/><line x1="49.97" y1="288.2" x2="49.97" y2="506.8"/><line x1="58.3" y1="288.2" x2="58.3" y2="506.8"/><line x1="66.64" y1="288.2" x2="66.64" y2="506.8"/><line x1="74.97" y1="288.2" x2="74.97" y2="506.8"/><line x1="83.31" y1="288.2" x2="83.31" y2="506.8"/><line x1="91.64" y1="288.2" x2="91.64" y2="506.8"/><line x1="99.98" y1="288.2" x2="99.98" y2="506.8"/><line x1="108.31" y1="288.2" x2="108.31" y2="506.8"/><line x1="116.65" y1="288.2" x2="116.65" y2="506.8"/><line x1="124.98" y1="288.2" x2="124.98" y2="506.8"/><line x1="133.32" y1="288.2" x2="133.32" y2="506.8"/><line x1="141.65" y1="288.2" x2="141.65" y2="506.8"/><line x1="149.99" y1="288.2" x2="149.99" y2="506.8"/><line x1="158.32" y1="288.2" x2="158.32" y2="506.8"/><line x1="166.66" y1="288.2" x2="166.66" y2="506.8"/><line x1="175" y1="288.2" x2="175" y2="506.8"/><line x1="183.33" y1="288.2" x2="183.33" y2="506.8"/><line x1="191.66" y1="288.2" x2="191.66" y2="506.8"/><line x1="33.3" y1="495.29" x2="200" y2="495.29"/><line x1="33.3" y1="483.79" x2="200" y2="483.79"/><line x1="33.3" y1="472.28" x2="200" y2="472.28"/><line x1="33.3" y1="460.78" x2="200" y2="460.78"/><line x1="33.3" y1="449.27" x2="200" y2="449.27"/><line x1="33.3" y1="437.77" x2="200" y2="437.77"/><line x1="33.3" y1="426.26" x2="200" y2="426.26"/><line x1="33.3" y1="414.76" x2="200" y2="414.76"/><line x1="33.3" y1="403.25" x2="200" y2="403.25"/><line x1="33.3" y1="391.75" x2="200" y2="391.75"/><line x1="33.3" y1="380.24" x2="200" y2="380.24"/><line x1="33.3" y1="368.74" x2="200" y2="368.74"/><line x1="33.3" y1="357.23" x2="200" y2="357.23"/><line x1="33.3" y1="345.73" x2="200" y2="345.73"/><line x1="33.3" y1="334.22" x2="200" y2="334.22"/><line x1="33.3" y1="322.72" x2="200" y2="322.72"/><line x1="33.3" y1="311.21" x2="200" y2="311.21"/><line x1="33.3" y1="299.71" x2="200" y2="299.71"/></g>
<path d="M44 449.7 L48.9 445.5 L72.5 445.5 L67.6 449.7 Z" fill="#c2c2c2" stroke="#7a7a7a" stroke-width="0.6"/><path d="M67.6 449.7 L72.5 445.5 L72.5 494.7 L67.6 498.9 Z" fill="#d6d6d6" stroke="#858585" stroke-width="0.6"/><rect x="44" y="449.7" width="23.6" height="49.2" fill="url(#chk)" stroke="#444" stroke-width="0.5"/><line x1="41.4" y1="450.3" x2="41.4" y2="498.9" stroke="#909090" stroke-width="0.8"/><circle cx="41.4" cy="450.5" r="0.7" fill="#555"/><text x="0" y="0" text-anchor="middle" font-size="9" fill="#111" style="stroke:#111;stroke-width:0.3px" transform="translate(41.2 448.4) scale(0.78 1)">Z</text>
<path d="M59.1 295.8 C59.13 296.38 59.82 297.65 59.3 299.3 C58.78 300.95 57.15 303.68 56 305.7 C54.85 307.72 53.58 309.5 52.4 311.4 C51.22 313.3 50.2 314.95 48.9 317.1 C47.6 319.25 45.8 322.27 44.6 324.3 C43.4 326.33 42.53 327.68 41.7 329.3 C40.87 330.92 40.12 332.22 39.6 334 C39.08 335.78 38.42 338.05 38.6 340 C38.78 341.95 39.4 343.8 40.7 345.7 C42 347.6 44.02 349.5 46.4 351.4 C48.78 353.3 51.73 355.22 55 357.1 C58.27 358.98 62.43 360.78 66 362.7 C69.57 364.62 73.72 366.75 76.4 368.6 C79.08 370.45 81.25 372.07 82.1 373.8 C82.95 375.53 82.55 377.13 81.5 379 C80.45 380.87 77.63 383.3 75.8 385 C73.97 386.7 71.38 387.95 70.5 389.2 C69.62 390.45 69.62 391.12 70.5 392.5 C71.38 393.88 74.08 395.7 75.8 397.5 C77.52 399.3 79.6 400.93 80.8 403.3 C82 405.67 82.38 409.15 83 411.7 C83.62 414.25 84.37 416.15 84.5 418.6 C84.63 421.05 83.72 423.43 83.8 426.4 C83.88 429.37 84.32 433.07 85 436.4 C85.68 439.73 87.18 443.78 87.9 446.4 C88.62 449.02 89.25 449.48 89.3 452.1 C89.35 454.72 88.17 458.77 88.2 462.1 C88.23 465.43 89.27 469.12 89.5 472.1 C89.73 475.08 90.03 477.62 89.6 480 C89.17 482.38 87.18 484.25 86.9 486.4 C86.62 488.55 87.5 490.52 87.9 492.9 C88.3 495.28 89.07 499.4 89.3 500.7" fill="none" stroke="#3c3c3c" stroke-width="1.05" stroke-linejoin="round" stroke-linecap="round"/>
<path d="M70.5 295.8 C70.58 296.5 71.27 298.35 71 300 C70.73 301.65 69.97 303.8 68.9 305.7 C67.83 307.6 66.15 309.5 64.6 311.4 C63.05 313.3 61.38 315.07 59.6 317.1 C57.82 319.13 55.68 321.45 53.9 323.6 C52.12 325.75 50.18 328.02 48.9 330 C47.62 331.98 46.78 333.83 46.2 335.5 C45.62 337.17 45.35 338.5 45.4 340 C45.45 341.5 45.85 343.37 46.5 344.5 C47.15 345.63 47.4 345.53 49.3 346.8 C51.2 348.07 54.57 350.38 57.9 352.1 C61.23 353.82 66.22 355.67 69.3 357.1 C72.38 358.53 74.02 359.08 76.4 360.7 C78.78 362.32 81.53 364.82 83.6 366.8 C85.67 368.78 87.1 370.65 88.8 372.6 C90.5 374.55 93.25 376.78 93.8 378.5 C94.35 380.22 93.57 381.58 92.1 382.9 C90.63 384.22 86.9 385.22 85 386.4 C83.1 387.58 80.93 388.8 80.7 390 C80.47 391.2 81.93 392.42 83.6 393.6 C85.27 394.78 89.03 395.8 90.7 397.1 C92.37 398.4 93.6 399.97 93.6 401.4 C93.6 402.83 91.75 404.27 90.7 405.7 C89.65 407.13 87.53 408.68 87.3 410 C87.07 411.32 88.13 412.42 89.3 413.6 C90.47 414.78 93 416.15 94.3 417.1 C95.6 418.05 96.98 418.33 97.1 419.3 C97.22 420.27 96.27 421.48 95 422.9 C93.73 424.32 89.73 426.13 89.5 427.8 C89.27 429.47 91.97 431.22 93.6 432.9 C95.23 434.58 98.35 436.6 99.3 437.9 C100.25 439.2 99.9 439.52 99.3 440.7 C98.7 441.88 96.38 443.68 95.7 445 C95.02 446.32 94.83 447.28 95.2 448.6 C95.57 449.92 96.87 451.35 97.9 452.9 C98.93 454.45 101.17 456.37 101.4 457.9 C101.63 459.43 100.33 460.68 99.3 462.1 C98.27 463.52 95.8 465.2 95.2 466.4 C94.6 467.6 94.9 468.22 95.7 469.3 C96.5 470.38 98.68 471.72 100 472.9 C101.32 474.08 103.48 474.98 103.6 476.4 C103.72 477.82 102.43 479.73 100.7 481.4 C98.97 483.07 94.15 484.97 93.2 486.4 C92.25 487.83 93.75 488.68 95 490 C96.25 491.32 99.15 492.98 100.7 494.3 C102.25 495.62 103.53 496.72 104.3 497.9 C105.07 499.08 105.13 500.82 105.3 501.4" fill="none" stroke="#f03c3c" stroke-width="1.05" stroke-linejoin="round" stroke-linecap="round"/>
<path d="M89.2 295.8 C89.17 296.62 89.53 298.82 89 300.7 C88.47 302.58 87.22 305.32 86 307.1 C84.78 308.88 83.13 309.97 81.7 311.4 C80.27 312.83 79.07 313.92 77.4 315.7 C75.73 317.48 73.48 319.95 71.7 322.1 C69.92 324.25 68.05 326.7 66.7 328.6 C65.35 330.5 64.47 331.83 63.6 333.5 C62.73 335.17 61.75 337.03 61.5 338.6 C61.25 340.17 61.28 341.48 62.1 342.9 C62.92 344.32 64.02 345.32 66.4 347.1 C68.78 348.88 73.07 351.8 76.4 353.6 C79.73 355.4 83.3 356.35 86.4 357.9 C89.5 359.45 92.32 361.38 95 362.9 C97.68 364.42 100.35 365.58 102.5 367 C104.65 368.42 106.17 369.72 107.9 371.4 C109.63 373.08 112.2 375.55 112.9 377.1 C113.6 378.65 113.18 379.38 112.1 380.7 C111.02 382.02 108.42 383.68 106.4 385 C104.38 386.32 101.47 387.62 100 388.6 C98.53 389.58 97.72 390.07 97.6 390.9 C97.48 391.73 97.83 392.57 99.3 393.6 C100.77 394.63 104.5 395.8 106.4 397.1 C108.3 398.4 110.1 400.2 110.7 401.4 C111.3 402.6 110.6 403.1 110 404.3 C109.4 405.5 107.55 407.17 107.1 408.6 C106.65 410.03 106.58 411.6 107.3 412.9 C108.02 414.2 110.12 415.1 111.4 416.4 C112.68 417.7 114.75 419.38 115 420.7 C115.25 422.02 113.7 423 112.9 424.3 C112.1 425.6 110.52 427.38 110.2 428.5 C109.88 429.62 110.2 429.92 111 431 C111.8 432.08 113.98 433.62 115 435 C116.02 436.38 116.98 437.87 117.1 439.3 C117.22 440.73 116.13 442.3 115.7 443.6 C115.27 444.9 114.5 445.68 114.5 447.1 C114.5 448.52 115.02 450.43 115.7 452.1 C116.38 453.77 118.37 455.67 118.6 457.1 C118.83 458.53 117.7 459.38 117.1 460.7 C116.5 462.02 115.2 463.57 115 465 C114.8 466.43 115.03 467.63 115.9 469.3 C116.77 470.97 119.48 473.57 120.2 475 C120.92 476.43 120.72 476.72 120.2 477.9 C119.68 479.08 118.2 480.68 117.1 482.1 C116 483.52 113.83 484.97 113.6 486.4 C113.37 487.83 114.63 489.15 115.7 490.7 C116.77 492.25 118.8 494.03 120 495.7 C121.2 497.37 122.42 499.87 122.9 500.7" fill="none" stroke="#2f7be8" stroke-width="1.15" stroke-linejoin="round" stroke-linecap="round"/>
<line x1="84.3" y1="328.8" x2="63.6" y2="337.2" stroke="#3a3a3a" stroke-width="0.8"/>
<line x1="95.7" y1="347" x2="70.7" y2="357.9" stroke="#3a3a3a" stroke-width="0.8"/>
<line x1="104.5" y1="365.3" x2="84.3" y2="373.6" stroke="#3a3a3a" stroke-width="0.8"/>
<rect x="85.3" y="312.6" width="85.3" height="17" fill="#9a9a9a"/><rect x="84.3" y="311.6" width="85.3" height="17" fill="#fff" stroke="#6e6e6e" stroke-width="0.9"/><text x="86.3" y="324.5" font-size="9.6" fill="#1a1a1a" textLength="82.4" lengthAdjust="spacingAndGlyphs">Direction = Diagonal</text>
<rect x="96.7" y="331.6" width="82.1" height="16.4" fill="#9a9a9a"/><rect x="95.7" y="330.6" width="82.1" height="16.4" fill="#fff" stroke="#6e6e6e" stroke-width="0.9"/><text x="97.7" y="342.9" font-size="9.6" fill="#1a1a1a" textLength="79.2" lengthAdjust="spacingAndGlyphs">Direction = Vertical</text>
<rect x="105.5" y="350.2" width="91.9" height="16.1" fill="#9a9a9a"/><rect x="104.5" y="349.2" width="91.9" height="16.1" fill="#fff" stroke="#6e6e6e" stroke-width="0.9"/><text x="106.5" y="361.2" font-size="9.6" fill="#1a1a1a" textLength="89" lengthAdjust="spacingAndGlyphs">Direction = Horizontal</text>
<path d="M33.3 288.2 L33.3 506.8 L200 506.8" fill="none" stroke="#2a2a2a" stroke-width="1"/><line x1="33.3" y1="288.2" x2="200" y2="288.2" stroke="#2a2a2a" stroke-width="1"/><line x1="200" y1="288.2" x2="200" y2="506.8" stroke="#6a6a6a" stroke-width="1.1"/><g stroke="#2a2a2a" stroke-width="0.8"><line x1="33.3" y1="506.8" x2="33.3" y2="504.2"/><line x1="33.3" y1="288.2" x2="33.3" y2="290.8"/><line x1="41.63" y1="506.8" x2="41.63" y2="505.4"/><line x1="41.63" y1="288.2" x2="41.63" y2="289.6"/><line x1="49.97" y1="506.8" x2="49.97" y2="505.4"/><line x1="49.97" y1="288.2" x2="49.97" y2="289.6"/><line x1="58.3" y1="506.8" x2="58.3" y2="505.4"/><line x1="58.3" y1="288.2" x2="58.3" y2="289.6"/><line x1="66.64" y1="506.8" x2="66.64" y2="504.2"/><line x1="66.64" y1="288.2" x2="66.64" y2="290.8"/><line x1="74.97" y1="506.8" x2="74.97" y2="505.4"/><line x1="74.97" y1="288.2" x2="74.97" y2="289.6"/><line x1="83.31" y1="506.8" x2="83.31" y2="505.4"/><line x1="83.31" y1="288.2" x2="83.31" y2="289.6"/><line x1="91.64" y1="506.8" x2="91.64" y2="505.4"/><line x1="91.64" y1="288.2" x2="91.64" y2="289.6"/><line x1="99.98" y1="506.8" x2="99.98" y2="504.2"/><line x1="99.98" y1="288.2" x2="99.98" y2="290.8"/><line x1="108.31" y1="506.8" x2="108.31" y2="505.4"/><line x1="108.31" y1="288.2" x2="108.31" y2="289.6"/><line x1="116.65" y1="506.8" x2="116.65" y2="505.4"/><line x1="116.65" y1="288.2" x2="116.65" y2="289.6"/><line x1="124.98" y1="506.8" x2="124.98" y2="505.4"/><line x1="124.98" y1="288.2" x2="124.98" y2="289.6"/><line x1="133.32" y1="506.8" x2="133.32" y2="504.2"/><line x1="133.32" y1="288.2" x2="133.32" y2="290.8"/><line x1="141.65" y1="506.8" x2="141.65" y2="505.4"/><line x1="141.65" y1="288.2" x2="141.65" y2="289.6"/><line x1="149.99" y1="506.8" x2="149.99" y2="505.4"/><line x1="149.99" y1="288.2" x2="149.99" y2="289.6"/><line x1="158.32" y1="506.8" x2="158.32" y2="505.4"/><line x1="158.32" y1="288.2" x2="158.32" y2="289.6"/><line x1="166.66" y1="506.8" x2="166.66" y2="504.2"/><line x1="166.66" y1="288.2" x2="166.66" y2="290.8"/><line x1="175" y1="506.8" x2="175" y2="505.4"/><line x1="175" y1="288.2" x2="175" y2="289.6"/><line x1="183.33" y1="506.8" x2="183.33" y2="505.4"/><line x1="183.33" y1="288.2" x2="183.33" y2="289.6"/><line x1="191.66" y1="506.8" x2="191.66" y2="505.4"/><line x1="191.66" y1="288.2" x2="191.66" y2="289.6"/><line x1="200" y1="506.8" x2="200" y2="504.2"/><line x1="200" y1="288.2" x2="200" y2="290.8"/><line x1="30.1" y1="506.8" x2="33.3" y2="506.8"/><line x1="31.7" y1="502.96" x2="33.3" y2="502.96"/><line x1="31.7" y1="499.13" x2="33.3" y2="499.13"/><line x1="30.1" y1="495.29" x2="33.3" y2="495.29"/><line x1="31.7" y1="491.46" x2="33.3" y2="491.46"/><line x1="31.7" y1="487.62" x2="33.3" y2="487.62"/><line x1="30.1" y1="483.79" x2="33.3" y2="483.79"/><line x1="31.7" y1="479.95" x2="33.3" y2="479.95"/><line x1="31.7" y1="476.12" x2="33.3" y2="476.12"/><line x1="30.1" y1="472.28" x2="33.3" y2="472.28"/><line x1="31.7" y1="468.45" x2="33.3" y2="468.45"/><line x1="31.7" y1="464.61" x2="33.3" y2="464.61"/><line x1="30.1" y1="460.78" x2="33.3" y2="460.78"/><line x1="31.7" y1="456.94" x2="33.3" y2="456.94"/><line x1="31.7" y1="453.11" x2="33.3" y2="453.11"/><line x1="30.1" y1="449.27" x2="33.3" y2="449.27"/><line x1="31.7" y1="445.44" x2="33.3" y2="445.44"/><line x1="31.7" y1="441.6" x2="33.3" y2="441.6"/><line x1="30.1" y1="437.77" x2="33.3" y2="437.77"/><line x1="31.7" y1="433.93" x2="33.3" y2="433.93"/><line x1="31.7" y1="430.1" x2="33.3" y2="430.1"/><line x1="30.1" y1="426.26" x2="33.3" y2="426.26"/><line x1="31.7" y1="422.43" x2="33.3" y2="422.43"/><line x1="31.7" y1="418.59" x2="33.3" y2="418.59"/><line x1="30.1" y1="414.76" x2="33.3" y2="414.76"/><line x1="31.7" y1="410.92" x2="33.3" y2="410.92"/><line x1="31.7" y1="407.09" x2="33.3" y2="407.09"/><line x1="30.1" y1="403.25" x2="33.3" y2="403.25"/><line x1="31.7" y1="399.42" x2="33.3" y2="399.42"/><line x1="31.7" y1="395.58" x2="33.3" y2="395.58"/><line x1="30.1" y1="391.75" x2="33.3" y2="391.75"/><line x1="31.7" y1="387.91" x2="33.3" y2="387.91"/><line x1="31.7" y1="384.08" x2="33.3" y2="384.08"/><line x1="30.1" y1="380.24" x2="33.3" y2="380.24"/><line x1="31.7" y1="376.41" x2="33.3" y2="376.41"/><line x1="31.7" y1="372.57" x2="33.3" y2="372.57"/><line x1="30.1" y1="368.74" x2="33.3" y2="368.74"/><line x1="31.7" y1="364.9" x2="33.3" y2="364.9"/><line x1="31.7" y1="361.07" x2="33.3" y2="361.07"/><line x1="30.1" y1="357.23" x2="33.3" y2="357.23"/><line x1="31.7" y1="353.4" x2="33.3" y2="353.4"/><line x1="31.7" y1="349.56" x2="33.3" y2="349.56"/><line x1="30.1" y1="345.73" x2="33.3" y2="345.73"/><line x1="31.7" y1="341.89" x2="33.3" y2="341.89"/><line x1="31.7" y1="338.06" x2="33.3" y2="338.06"/><line x1="30.1" y1="334.22" x2="33.3" y2="334.22"/><line x1="31.7" y1="330.39" x2="33.3" y2="330.39"/><line x1="31.7" y1="326.55" x2="33.3" y2="326.55"/><line x1="30.1" y1="322.72" x2="33.3" y2="322.72"/><line x1="31.7" y1="318.88" x2="33.3" y2="318.88"/><line x1="31.7" y1="315.05" x2="33.3" y2="315.05"/><line x1="30.1" y1="311.21" x2="33.3" y2="311.21"/><line x1="31.7" y1="307.38" x2="33.3" y2="307.38"/><line x1="31.7" y1="303.54" x2="33.3" y2="303.54"/><line x1="30.1" y1="299.71" x2="33.3" y2="299.71"/><line x1="31.7" y1="295.87" x2="33.3" y2="295.87"/><line x1="31.7" y1="292.04" x2="33.3" y2="292.04"/><line x1="30.1" y1="288.2" x2="33.3" y2="288.2"/></g><g font-size="9" fill="#1a1a1a"><text x="33.3" y="518.2" text-anchor="middle">0.9</text><text x="66.64" y="518.2" text-anchor="middle">1.0</text><text x="99.98" y="518.2" text-anchor="middle">1.1</text><text x="133.32" y="518.2" text-anchor="middle">1.2</text><text x="166.66" y="518.2" text-anchor="middle">1.3</text><text x="200" y="518.2" text-anchor="middle">1.4</text><text x="27.7" y="509.4" text-anchor="end">0</text><text x="27.7" y="497.89" text-anchor="end">3</text><text x="27.7" y="486.39" text-anchor="end">6</text><text x="27.7" y="474.88" text-anchor="end">9</text><text x="27.7" y="463.38" text-anchor="end">12</text><text x="27.7" y="451.87" text-anchor="end">15</text><text x="27.7" y="440.37" text-anchor="end">18</text><text x="27.7" y="428.86" text-anchor="end">21</text><text x="27.7" y="417.36" text-anchor="end">24</text><text x="27.7" y="405.85" text-anchor="end">27</text><text x="27.7" y="394.35" text-anchor="end">30</text><text x="27.7" y="382.84" text-anchor="end">33</text><text x="27.7" y="371.34" text-anchor="end">36</text><text x="27.7" y="359.83" text-anchor="end">39</text><text x="27.7" y="348.33" text-anchor="end">42</text><text x="27.7" y="336.82" text-anchor="end">45</text><text x="27.7" y="325.32" text-anchor="end">48</text><text x="27.7" y="313.81" text-anchor="end">51</text><text x="27.7" y="302.31" text-anchor="end">54</text><text x="27.7" y="290.8" text-anchor="end">57</text></g><text x="116.65" y="531.1" class="al" text-anchor="middle" font-size="9.5" fill="#1a1a1a" textLength="80" lengthAdjust="spacingAndGlyphs">Entropy by Haralick</text><text transform="translate(12.4 398.4) rotate(-90)" class="al" text-anchor="middle" font-size="9.5" fill="#1a1a1a" textLength="68.3" lengthAdjust="spacingAndGlyphs">Position Z in mm</text><text x="106.3" y="545.1" text-anchor="middle" font-size="10.6" font-weight="bold" fill="#1a1a1a">(c)</text>
</svg>
</body></html>
